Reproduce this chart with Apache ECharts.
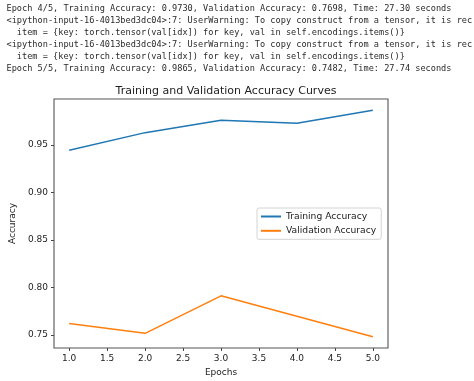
<!DOCTYPE html>
<html>
<head>
<meta charset="utf-8">
<script src="https://cdn.jsdelivr.net/npm/echarts@6/dist/echarts.min.js"></script>
<style>
html,body{margin:0;padding:0;background:#fff;}
#c{width:474px;height:381px;}
</style>
</head>
<body>
<div id="c"></div>
<script>
const epochs = [1, 2, 3, 4, 5];
const trainAcc = [0.9444, 0.9630, 0.9760, 0.9730, 0.9865];
const valAcc = [0.7622, 0.7517, 0.7912, 0.7698, 0.7482];
const xTicks = [1.0, 1.5, 2.0, 2.5, 3.0, 3.5, 4.0, 4.5, 5.0];
const yTicks = [0.75, 0.80, 0.85, 0.90, 0.95];
const consoleLines = [
  "Epoch 4/5, Training Accuracy: 0.9730, Validation Accuracy: 0.7698, Time: 27.30 seconds",
  "<ipython-input-16-4013bed3dc04>:7: UserWarning: To copy construct from a tensor, it is rec",
  "  item = {key: torch.tensor(val[idx]) for key, val in self.encodings.items()}",
  "<ipython-input-16-4013bed3dc04>:7: UserWarning: To copy construct from a tensor, it is rec",
  "  item = {key: torch.tensor(val[idx]) for key, val in self.encodings.items()}",
  "Epoch 5/5, Training Accuracy: 0.9865, Validation Accuracy: 0.7482, Time: 27.74 seconds"
];

const allVals = trainAcc.concat(valAcc);
const yLo = Math.min(...allVals), yHi = Math.max(...allVals);
const yPad = (yHi - yLo) * 0.05;
const xPad = (epochs[epochs.length - 1] - epochs[0]) * 0.05;

const font = "DejaVu Sans";
const chart = echarts.init(document.getElementById('c'), null, {renderer: 'canvas'});

const graphics = consoleLines.map((t, i) => ({
  type: 'text',
  left: 6.5,
  top: 4 + i * 12.1,
  style: {text: t, font: '8.6px "DejaVu Sans Mono"', fill: '#2b2b2b'}
}));

chart.setOption({
  animation: false,
  backgroundColor: '#fff',
  title: {
    text: 'Training and Validation Accuracy Curves',
    left: 221, top: 81, textAlign: 'center',
    textStyle: {fontFamily: font, fontSize: 11, fontWeight: 'normal', color: '#222'}
  },
  graphic: graphics,
  grid: {
    left: 54, right: 86, top: 99, bottom: 33,
    show: true, borderColor: '#555', borderWidth: 1.1, backgroundColor: '#fff',
    outerBoundsMode: 'none'
  },
  legend: {
    orient: 'vertical',
    left: 257, top: 208,
    padding: [3, 5, 3, 4],
    itemGap: 3.3,
    itemWidth: 20, itemHeight: 2,
    icon: 'rect',
    backgroundColor: '#fff',
    borderColor: '#d4d4d4', borderWidth: 1, borderRadius: 2,
    textStyle: {fontFamily: font, fontSize: 9.2, color: '#222', lineHeight: 11},
    data: ['Training Accuracy', 'Validation Accuracy']
  },
  xAxis: {
    type: 'value',
    min: epochs[0] - xPad, max: epochs[epochs.length - 1] + xPad,
    name: 'Epochs', nameLocation: 'middle', nameGap: 18,
    nameTextStyle: {fontFamily: font, fontSize: 9, color: '#222'},
    axisLine: {show: false},
    axisTick: {show: true, length: 3, customValues: xTicks, lineStyle: {color: '#444'}},
    axisLabel: {customValues: xTicks, fontFamily: font, fontSize: 9, color: '#222', margin: 6,
      formatter: v => v.toFixed(1)},
    splitLine: {show: false}
  },
  yAxis: {
    type: 'value',
    min: yLo - yPad, max: yHi + yPad,
    name: 'Accuracy', nameLocation: 'middle', nameGap: 30,
    nameTextStyle: {fontFamily: font, fontSize: 9, color: '#222'},
    axisLine: {show: false},
    axisTick: {show: true, length: 3, customValues: yTicks, lineStyle: {color: '#444'}},
    axisLabel: {customValues: yTicks, fontFamily: font, fontSize: 9, color: '#222', margin: 6,
      formatter: v => v.toFixed(2)},
    splitLine: {show: false}
  },
  series: [
    {
      name: 'Training Accuracy', type: 'line',
      data: epochs.map((e, i) => [e, trainAcc[i]]),
      showSymbol: false, symbol: 'none',
      lineStyle: {color: '#1f77b4', width: 1.5},
      itemStyle: {color: '#1f77b4'}
    },
    {
      name: 'Validation Accuracy', type: 'line',
      data: epochs.map((e, i) => [e, valAcc[i]]),
      showSymbol: false, symbol: 'none',
      lineStyle: {color: '#ff7f0e', width: 1.5},
      itemStyle: {color: '#ff7f0e'}
    }
  ]
});
</script>
</body>
</html>
